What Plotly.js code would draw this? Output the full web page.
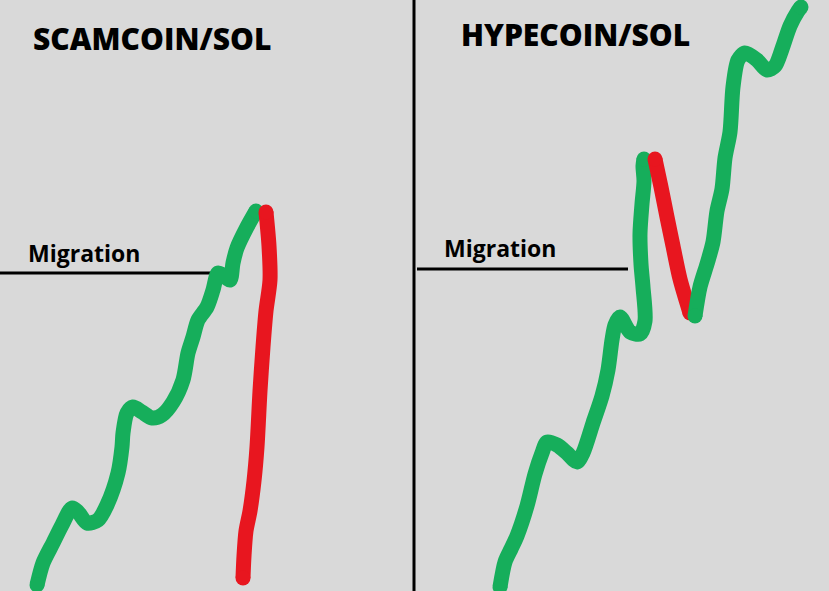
<!DOCTYPE html>
<html>
<head>
<meta charset="utf-8">
<script src="https://cdn.plot.ly/plotly-3.0.1.min.js"></script>
<style>html,body{margin:0;padding:0;background:#d9d9d9;}#chart{width:829px;height:591px;}</style>
</head>
<body>
<div id="chart"></div>
<script>
// Hand-drawn price paths (x = time units, y = price units)
const scamRiseX = [37, 43, 53, 62, 72, 78, 87, 98, 107, 118, 122, 123, 127, 133, 142, 152, 162, 173, 183, 188, 193, 198, 207, 213, 218, 223, 230, 233, 237, 247, 256];
const scamRiseY = [6, 28, 48, 66, 83, 79, 68, 71, 86, 118, 144, 158, 178, 184, 179, 173, 176, 189, 211, 238, 254, 271, 284, 301, 318, 316, 311, 328, 343, 364, 380];
const scamDumpX = [266, 269, 270, 266, 263, 260, 257, 254, 250, 246, 244, 243];
const scamDumpY = [379, 345, 311, 280, 244, 200, 144, 110, 80, 60, 35, 13];

const hypeRise1X = [500, 505, 511, 517, 527, 535, 542, 547, 557, 567, 577, 583, 593, 602, 608, 612, 615, 620, 630, 640, 645, 643, 641, 640, 642, 644, 643, 644];
const hypeRise1Y = [4, 29, 42, 55, 85, 117, 138, 149, 146, 138, 129, 138, 168, 195, 221, 251, 266, 274, 259, 257, 270, 304, 327, 357, 387, 410, 425, 432];
const hypeDipX = [655, 661, 667, 673, 680, 690];
const hypeDipY = [432, 404, 374, 345, 312, 278];
const hypeRise2X = [695, 700, 707, 713, 717, 722, 725, 730, 733, 738, 745, 757, 767, 775, 782, 790, 798, 801];
const hypeRise2Y = [275, 304, 327, 349, 380, 402, 433, 459, 504, 531, 538, 531, 521, 525, 542, 565, 580, 584];

const migrationLevelLeft = 318;
const migrationLevelRight = 322;
const migrationLeftX = [0, 213];
const migrationRightX = [417, 628];

const titles = ["SCAMCOIN/SOL", "HYPECOIN/SOL"];
const migrationLabel = "Migration";

const GREEN = "#16ae5b";
const RED = "#e8161f";
const LW = 15;

function path(x, y, color, w) {
  return [
    {x: x, y: y, type: "scatter", mode: "lines",
     line: {color: color, width: w, shape: "spline", smoothing: 0.8},
     hoverinfo: "skip", showlegend: false},
    {x: [x[0], x[x.length - 1]], y: [y[0], y[y.length - 1]], type: "scatter", mode: "markers",
     marker: {color: color, size: w, line: {width: 0}},
     hoverinfo: "skip", showlegend: false}
  ];
}
function flat(x, level) {
  return {x: x, y: x.map(() => level), type: "scatter", mode: "lines",
    line: {color: "#000000", width: 3}, hoverinfo: "skip", showlegend: false};
}

const traces = [
  flat(migrationLeftX, migrationLevelLeft),
  flat(migrationRightX, migrationLevelRight),
  ...path(scamRiseX, scamRiseY, GREEN, LW),
  ...path(scamDumpX, scamDumpY, RED, LW),
  ...path(hypeRise1X, hypeRise1Y, GREEN, LW),
  ...path(hypeDipX, hypeDipY, RED, LW),
  ...path(hypeRise2X, hypeRise2Y, GREEN, LW)
];

const titleFont = {family: "Open Sans, sans-serif", size: 30, color: "#000", weight: 800};
const labelFont = {family: "Open Sans, sans-serif", size: 23, color: "#000", weight: 700};

const layout = {
  width: 829, height: 591,
  margin: {l: 0, r: 0, t: 0, b: 0, pad: 0},
  paper_bgcolor: "#d9d9d9", plot_bgcolor: "#d9d9d9",
  xaxis: {range: [0, 829], visible: false, fixedrange: true},
  yaxis: {range: [0, 591], visible: false, fixedrange: true},
  shapes: [
    {type: "line", xref: "x", yref: "paper", x0: 414, x1: 414, y0: 0, y1: 1,
     line: {color: "#000000", width: 3}}
  ],
  annotations: [
    {text: titles[0], x: 152, y: 553, xref: "x", yref: "y", showarrow: false, font: titleFont},
    {text: titles[1], x: 575, y: 557, xref: "x", yref: "y", showarrow: false, font: titleFont},
    {text: migrationLabel, x: 84, y: 338, xref: "x", yref: "y", showarrow: false, font: labelFont},
    {text: migrationLabel, x: 500, y: 343, xref: "x", yref: "y", showarrow: false, font: labelFont}
  ]
};

Plotly.newPlot("chart", traces, layout, {staticPlot: true, displayModeBar: false});
</script>
</body>
</html>
